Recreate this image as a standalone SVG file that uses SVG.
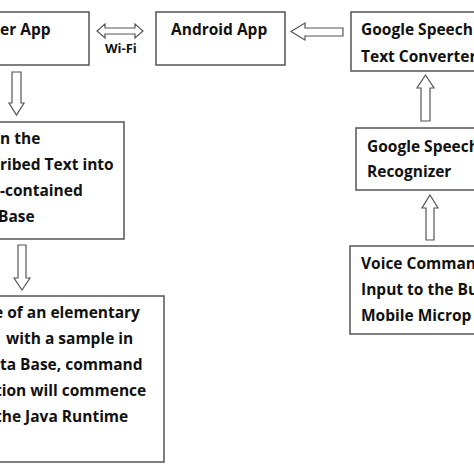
<svg xmlns="http://www.w3.org/2000/svg" width="474" height="474" viewBox="0 0 474 474">
<style>
.box{fill:#fff;stroke:#555;stroke-width:1.5}
.arr{fill:#fff;stroke:#555;stroke-width:1.2;stroke-linejoin:miter}
text{font-family:"Open Sans","Liberation Sans",sans-serif;font-weight:700;font-size:15.5px;fill:#111}
.small{font-size:13px}
</style>
<rect width="474" height="474" fill="#fff"/>
<g id="connectors">
<polygon class="arr" points="97,31 105,24 105,28 135,28 135,24 143,31 135,38 135,34 105,34 105,38"/>
<text class="small" x="105" y="53">Wi-Fi</text>
<polygon class="arr" points="291,31.5 305,23 305,28 343,28 343,36 305,36 305,40"/>
<polygon class="arr" points="12,72 21,72 21,103 24,103 16.5,115 9,103 12,103"/>
<polygon class="arr" points="18,245 26,245 26,278 30,278 22,290 14,278 18,278"/>
<polygon class="arr" points="425.5,75 434,88 430,88 430,121 421,121 421,88 417,88"/>
<polygon class="arr" points="430,195 438,208 434,208 434,240 426,240 426,208 422,208"/>
</g>
<g id="server">
<rect class="box" x="-10" y="12" width="99" height="53"/>
<text x="0" y="35">er App</text>
</g>
<g id="android">
<rect class="box" x="156" y="12" width="129" height="53"/>
<text x="171" y="35">Android App</text>
</g>
<g id="converter">
<rect class="box" x="351" y="12" width="133" height="59"/>
<text x="361" y="35">Google Speech</text>
<text x="361" y="62">Text Converter</text>
</g>
<g id="recognizer">
<rect class="box" x="356" y="128" width="128" height="62"/>
<text x="367" y="152">Google Speech</text>
<text x="367" y="177">Recognizer</text>
</g>
<g id="voice">
<rect class="box" x="350" y="246" width="134" height="88"/>
<text x="361" y="269">Voice Comman</text>
<text x="361" y="295">Input to the Bu</text>
<text x="361" y="321">Mobile Microp</text>
</g>
<g id="listen">
<rect class="box" x="-10" y="122" width="134" height="117"/>
<text x="0" y="144">n the</text>
<text x="0" y="170">ribed Text into</text>
<text x="0" y="196">-contained</text>
<text x="-2" y="222">Base</text>
</g>
<g id="execute">
<rect class="box" x="-10" y="296" width="174" height="166"/>
<text x="-6" y="318">e of an elementary</text>
<text x="6" y="344">with a sample in</text>
<text x="0" y="370">ta Base, command</text>
<text x="-5" y="396">tion will commence</text>
<text x="-5" y="422">the Java Runtime</text>
</g>
</svg>
